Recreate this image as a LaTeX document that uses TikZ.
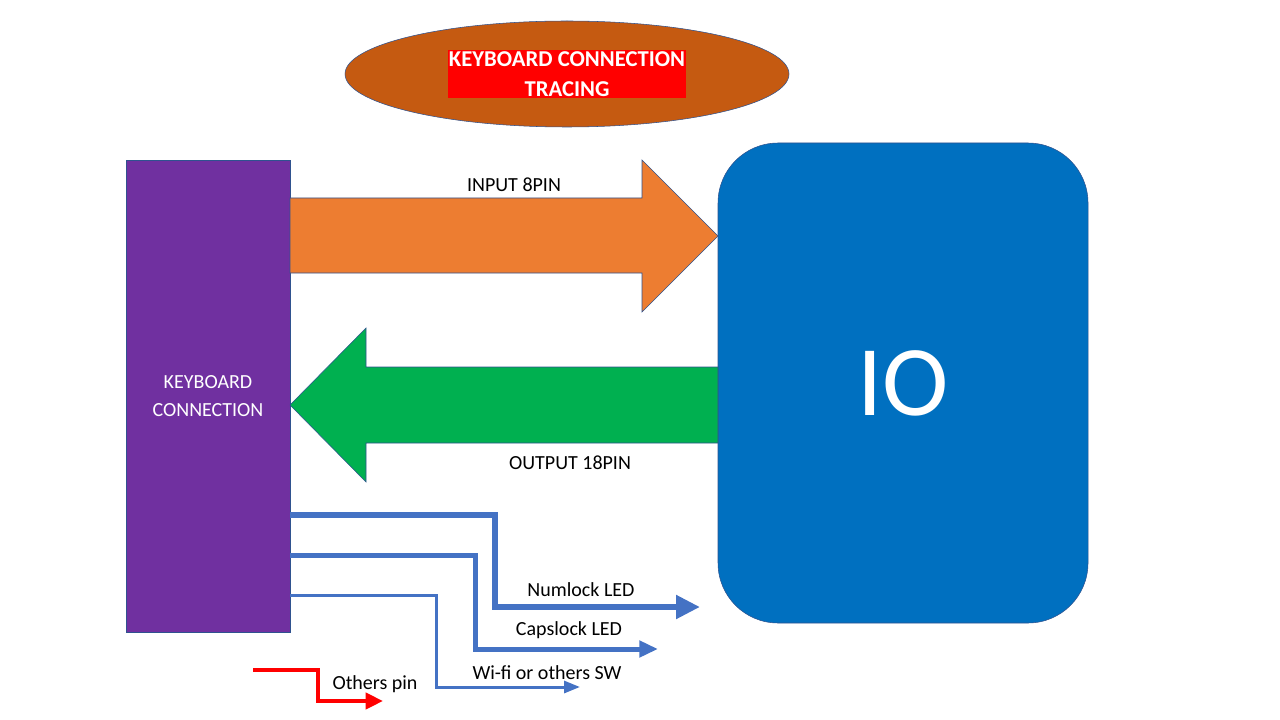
\documentclass[tikz,border=0pt]{standalone}
\usepackage{fontspec}
\setmainfont{Carlito}
\usetikzlibrary{shapes.geometric,arrows.meta}
\definecolor{pur}{HTML}{7030A0}
\definecolor{iob}{HTML}{0070C0}
\definecolor{org}{HTML}{ED7D31}
\definecolor{grn}{HTML}{00B050}
\definecolor{brn}{HTML}{C55A11}
\definecolor{ln}{HTML}{4472C4}
\definecolor{edg}{HTML}{2F528F}
\begin{document}
\begin{tikzpicture}[x=0.75pt,y=-0.75pt,
  wire/.style={draw=ln,line join=miter,-{Triangle[length=16pt,width=14pt]}},
  lbl/.style={font=\fontsize{15}{17}\selectfont,inner sep=1pt}]
\useasboundingbox (0,0) rectangle (1280,720);
\node[ellipse,draw=edg,fill=brn,minimum width=444*0.75pt,minimum height=106*0.75pt] (title) at (567,74) {};
\node[fill=red,text=white,font=\bfseries\fontsize{17}{23}\selectfont,align=center,inner sep=1pt] (tt) at (567,74) {KEYBOARD CONNECTION\\TRACING};
\node[draw=edg,fill=pur,minimum width=164*0.75pt,minimum height=472*0.75pt,inner sep=0pt,text=white,align=center,font=\fontsize{15}{21}\selectfont] (kb) at (208,396) {KEYBOARD\\CONNECTION};
\node[draw=edg,fill=iob,rounded corners=45pt,minimum width=370*0.75pt,minimum height=480*0.75pt,text=white,font=\fontsize{75}{80}\selectfont] (io) at (903,383) {IO};
\draw[draw=edg,fill=org] (290,198) -- (642,198) -- (642,160) -- (718,236) -- (642,312) -- (642,273) -- (290,273) -- cycle;
\draw[draw=edg,fill=grn] (718,367) -- (366,367) -- (366,328) -- (290,405) -- (366,482) -- (366,443) -- (718,443) -- cycle;
\node[lbl] (in) at (514,185) {INPUT 8PIN};
\node[lbl] (out) at (570,463) {OUTPUT 18PIN};
\coordinate (n1) at (700,607); \coordinate (c1) at (658,649); \coordinate (w1) at (580,687); \coordinate (r1) at (383,701);
\draw[wire,line width=6*0.75pt,-{Triangle[length=18pt,width=17pt]}] (kb.east |- 0,515) -- (495,515) -- (495,607) -- (n1);
\draw[wire,line width=5*0.75pt,-{Triangle[length=14pt,width=12pt]}] (kb.east |- 0,555) -- (475,555) -- (475,649) -- (c1);
\draw[wire,line width=3*0.75pt,-{Triangle[length=12pt,width=9pt]}] (kb.east |- 0,595) -- (436,595) -- (436,687) -- (w1);
\draw[draw=red,line width=4*0.75pt,line join=miter,-{Triangle[length=13pt,width=12pt]}] (253,670) -- (318,670) -- (318,701) -- (r1);
\node[lbl] at (581,590) {Numlock LED};
\node[lbl] at (569,630) {Capslock LED};
\node[lbl] at (547,673) {Wi-fi or others SW};
\node[lbl] at (375,684) {Others pin};
\end{tikzpicture}
\end{document}
